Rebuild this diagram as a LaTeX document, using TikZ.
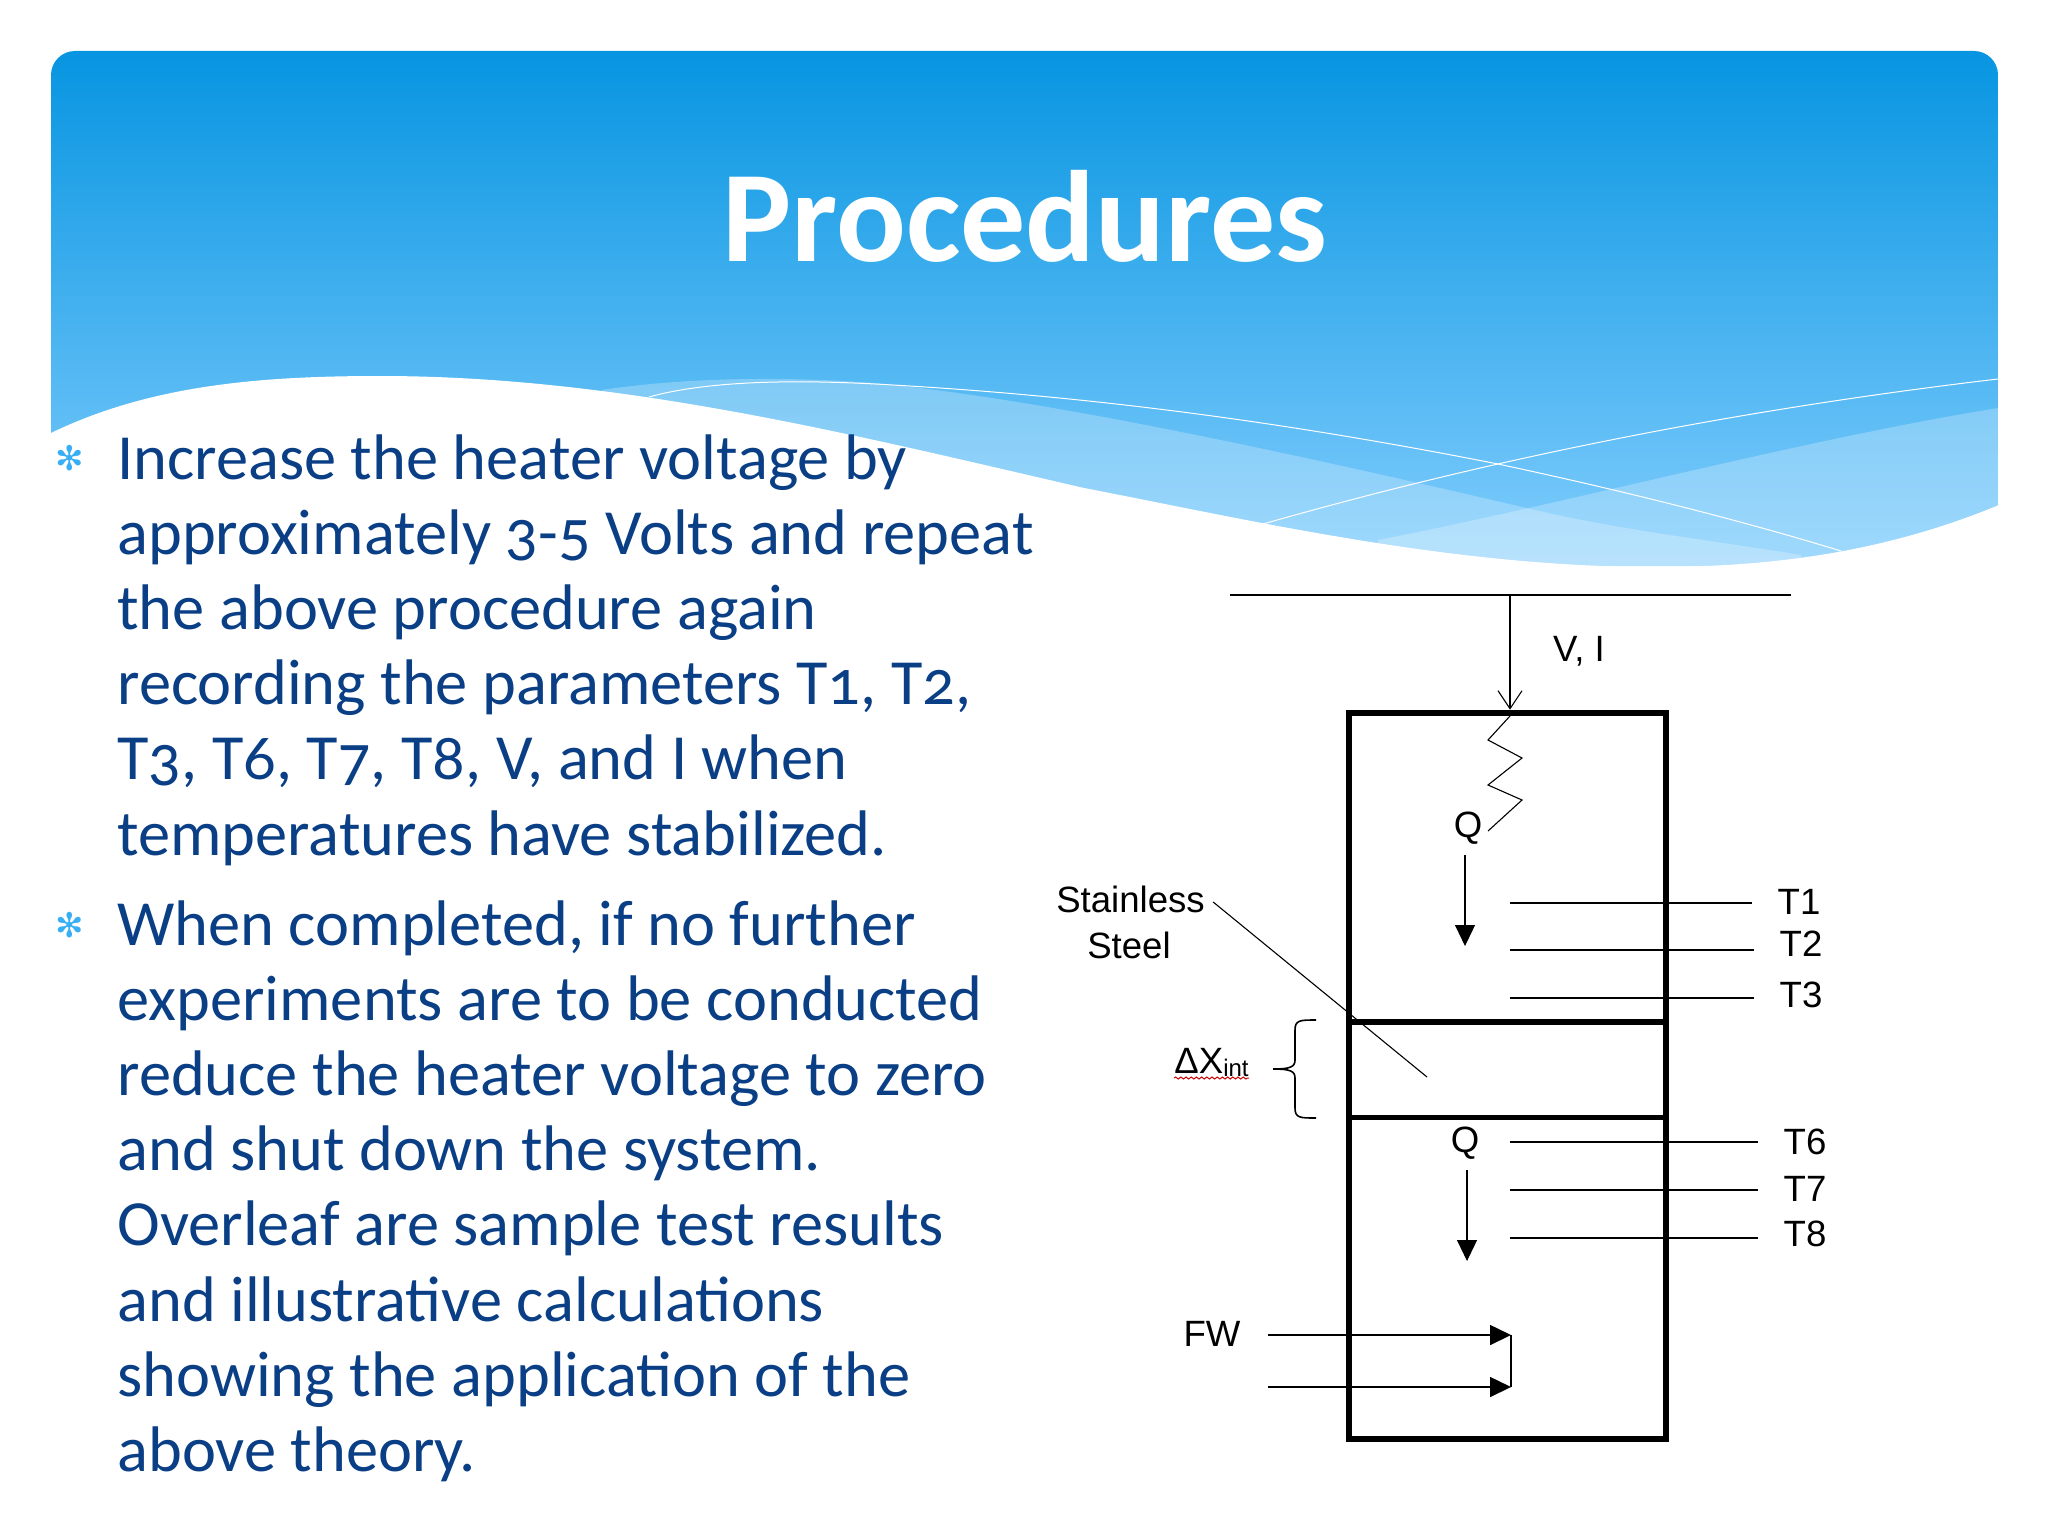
\documentclass[tikz,border=0pt]{standalone}
\usepackage{fontspec}
\setmainfont[Numbers=OldStyle]{Carlito}
\newfontfamily\arialf{Liberation Sans}
\newfontfamily\bulletf{DejaVu Sans}
\usetikzlibrary{arrows.meta,decorations.pathmorphing}
\definecolor{bannertop}{HTML}{0795E1}
\definecolor{bannerlow}{HTML}{81CDFD}
\definecolor{bodyblue}{HTML}{0A3F86}
\definecolor{bulletblue}{HTML}{38AEF5}
\tikzset{
  para/.style={anchor=north west, inner sep=0pt, align=left, text=bodyblue, font=\fontsize{32.2}{37.6}\selectfont},
  bull/.style={text=bulletblue, inner sep=0pt, font=\bulletf\fontsize{17}{17}\selectfont},
  lab/.style={inner xsep=10pt, inner ysep=0pt, font=\arialf\fontsize{18.3}{18.3}\selectfont},
  wall/.style={line width=3.3pt},
  sensor/.style={line width=0.8pt},
  fineline/.style={line width=0.55pt},
  band/.style={white, opacity=0.25},
  solidtip/.style={-{Triangle[length=10.5pt,width=10pt]}},
  wavy/.style={red!80!black, line width=0.5pt, decorate, decoration={snake, amplitude=0.5pt, segment length=2.6pt}}
}

\begin{document}
\begin{tikzpicture}[x=0.5pt, y=-0.5pt]
      \useasboundingbox (0, 0) rectangle (2048, 1536);
      \shade[top color=bannertop, bottom color=bannerlow, rounded corners=12pt] (51, 51) rectangle (1998, 566);
      \fill[band] (602, 390) .. controls (680, 378) and (780, 376) .. (875, 383) .. controls (1050, 400) and (1300, 455) .. (1535, 510) .. controls (1620, 530) and (1710, 540) .. (1801, 555) -- (1801, 600) -- (600, 600) -- cycle;
      \fill[band] (1378, 540) .. controls (1560, 505) and (1800, 440) .. (1998, 408) -- (1998, 600) -- (1378, 600) -- cycle;
      \draw[white, line width=0.5pt] (649, 397) .. controls (710, 380) and (800, 380) .. (875, 384) .. controls (1100, 396) and (1300, 425) .. (1498, 464) .. controls (1620, 490) and (1740, 520) .. (1841, 551);
      \draw[white, line width=0.5pt] (1263, 524) .. controls (1400, 485) and (1650, 420) .. (1998, 379);
      \fill[white] (51, 433) .. controls (150, 385) and (260, 376) .. (380, 376) .. controls (620, 376) and (850, 434) .. (1084, 488) .. controls (1250, 520) and (1450, 567) .. (1655, 567) .. controls (1780, 567) and (1890, 550) .. (1999, 505) -- (2000, 1536) -- (49, 1536) -- cycle;

      \node[text=white, font=\bfseries\fontsize{65}{65}\selectfont, anchor=base, inner sep=0pt] (title) at (1025, 261) {Procedures};

      \node[bull] (B1) at (70, 458) {✻};
      \node[para] (P1) at (117, 434) {Increase the heater voltage by\\approximately 3-5 Volts and repeat\\the above procedure again\\recording the parameters T1, T2,\\T3, T6, T7, T8, V, and I when\\temperatures have stabilized.};
      \node[bull] (B2) at (70, 925) {✻};
      \node[para] (P2) at (117, 900) {When completed, if no further\\experiments are to be conducted\\reduce the heater voltage to zero\\and shut down the system.\\Overleaf are sample test results\\and illustrative calculations\\showing the application of the\\above theory.};

      \node[draw, wall, minimum width=158.5pt, minimum height=363pt, inner sep=0pt] (Box) at (1507.5, 1076) {};
      \draw[line width=2.6pt] (Box.west |- 0, 1022) -- (Box.east |- 0, 1022);
      \draw[line width=2.5pt] (Box.west |- 0, 1117) -- (Box.east |- 0, 1117);

      \coordinate (BusL) at (1230, 595);
      \coordinate (BusR) at (1791, 595);
      \coordinate (BusM) at (1510, 595);
      \draw[sensor] (BusL) -- (BusR);
      \draw[fineline, -{Straight Barb[length=9pt,width=12pt]}] (BusM) -- (BusM |- Box.north);
      \node[lab] (VI) at (1579, 651) {V, I};
      \draw[fineline] (1510, 716) -- (1488, 740) -- (1522, 758) -- (1488, 785) -- (1522, 800) -- (1488, 831);

      \node[lab, inner xsep=0pt] (Q1) at (1468, 828) {Q};
      \coordinate (Q1a) at (1465, 855);
      \coordinate (Q1b) at (1465, 946);
      \draw[fineline, solidtip] (Q1a) -- (Q1b);
      \node[lab, inner xsep=0pt] (Q2) at (1465, 1143) {Q};
      \coordinate (Q2a) at (1467, 1170);
      \coordinate (Q2b) at (1467, 1261);
      \draw[fineline, solidtip] (Q2a) -- (Q2b);

      \foreach \n/\sy/\ly/\lx in {1/903/902/1799, 2/950/944/1801, 3/998/995/1801, 6/1142/1142/1805, 7/1190/1189/1805, 8/1238/1234/1805} {
        \coordinate (S\n) at (1510, \sy);
        \node[lab, inner xsep=12.5pt] (T\n) at (\lx, \ly) {T\n};
        \draw[sensor] (S\n) -- (S\n -| T\n.west);
      }

      \node[lab, inner xsep=4pt] (Stainless) at (1130.5, 899) {Stainless};
      \node[lab] (Steel) at (1129, 945) {Steel};
      \coordinate (SSend) at (1427, 1077);
      \draw[fineline] ([yshift=-1.5pt]Stainless.east) -- (SSend);

      \node[lab, inner sep=0pt, anchor=base west] (DX) at (1174, 1073) {ΔX{\fontsize{12}{12}\selectfont\raisebox{-1.5pt}{int}}};
      \draw[wavy] ([yshift=-2.5pt]DX.base west) -- ([yshift=-2.5pt]DX.base east);
      \coordinate (Tip) at (1273, 1069);
      \draw[sensor] (1316, 1020) .. controls (1300, 1020) and (1295, 1020) .. (1295, 1030) -- (1295, 1060) .. controls (1295, 1067) and (1290, 1069) .. (Tip) .. controls (1290, 1069) and (1295, 1071) .. (1295, 1078) -- (1295, 1108) .. controls (1295, 1118) and (1300, 1118) .. (1316, 1118);

      \node[lab] (FW) at (1212, 1334) {FW};
      \coordinate (FWa) at (1268, 1335);
      \coordinate (FWb) at (1268, 1387);
      \coordinate (FWc) at (1511, 1335);
      \coordinate (FWd) at (1511, 1387);
      \draw[sensor, solidtip] (FWa) -- (FWc);
      \draw[sensor, solidtip] (FWb) -- (FWd);
      \draw[fineline] (FWc) -- (FWd);
\end{tikzpicture}
\end{document}
